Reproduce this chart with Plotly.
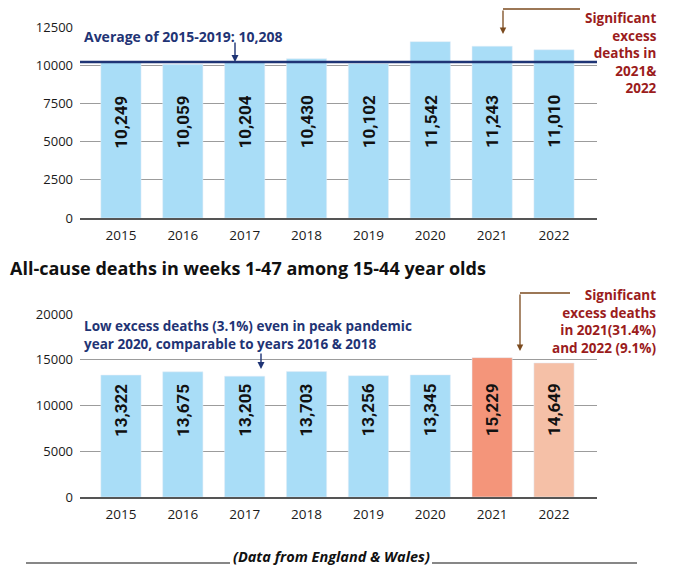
import plotly.graph_objects as go

years = ["2015", "2016", "2017", "2018", "2019", "2020", "2021", "2022"]
deaths_all_weeks = [10249, 10059, 10204, 10430, 10102, 11542, 11243, 11010]
deaths_wk1_47 = [13322, 13675, 13205, 13703, 13256, 13345, 15229, 14649]
average_2015_2019 = 10208

top_ticks = [0, 2500, 5000, 7500, 10000, 12500]
bottom_ticks = [0, 5000, 10000, 15000, 20000]

# the page body has an 8px margin, so the figure is a bit smaller and offset
OX, OY = 8, 8
W, H = 662, 568
FONT = "Open Sans, Noto Sans, sans-serif"
NARROW = "Liberation Sans Narrow, Arial Narrow, Roboto, sans-serif"
BLUE = "#A9DDF7"
NAVY = "#1F3475"
DARKRED = "#9B1C1C"
BROWN = "#7B4A1E"


def px(x):
    return (x - OX) / W


def py(y):
    return 1 - (y - OY) / H


fig = go.Figure()

fig.add_trace(go.Bar(x=years, y=deaths_all_weeks, marker_color=BLUE, width=0.65,
                     xaxis="x", yaxis="y", hoverinfo="x+y"))
bottom_colors = [BLUE] * 6 + ["#F4957A", "#F5C0A7"]
fig.add_trace(go.Bar(x=years, y=deaths_wk1_47, marker_color=bottom_colors, width=0.65,
                     xaxis="x2", yaxis="y2", hoverinfo="x+y"))

xdom = [px(80), px(597)]
xrange = [-0.662, 7.695]
xstyle = dict(type="category", range=xrange, domain=xdom, showline=True, linecolor="#555555",
              linewidth=1.5, showgrid=False, ticks="", ticklabelstandoff=4, automargin=False,
              tickfont=dict(family=FONT, size=13.5, color="#1a1a1a"))
ystyle = dict(showgrid=True, gridcolor="#9c9c9c", gridwidth=1, zeroline=False, ticks="",
              tickformat="d", automargin=False,
              ticklabelstandoff=6, tickfont=dict(family=FONT, size=13, color="#1a1a1a"))

fig.update_layout(
    width=W, height=H,
    margin=dict(l=0, r=0, t=0, b=0, pad=0),
    paper_bgcolor="white", plot_bgcolor="white",
    showlegend=False, bargap=0.35,
    xaxis=dict(anchor="y", **xstyle),
    xaxis2=dict(anchor="y2", **xstyle),
    yaxis=dict(anchor="x", domain=[py(218), py(27)], range=[0, 12500],
               tickvals=top_ticks, **ystyle),
    yaxis2=dict(anchor="x2", domain=[py(497), py(314)], range=[0, 20000],
                tickvals=bottom_ticks, **ystyle),
)

# value labels inside the bars (category index as x)
for i, v in enumerate(deaths_all_weeks):
    fig.add_annotation(x=i, y=6300, xref="x", yref="y", text=f"<b>{v:,}</b>", textangle=-90,
                       showarrow=False, font=dict(family=NARROW, size=17, color="#111111"))
for i, v in enumerate(deaths_wk1_47):
    fig.add_annotation(x=i, y=9500, xref="x2", yref="y2", text=f"<b>{v:,}</b>", textangle=-90,
                       showarrow=False, font=dict(family=NARROW, size=17, color="#111111"))

# average line
fig.add_shape(type="line", xref="paper", yref="y", x0=xdom[0], x1=xdom[1],
              y0=average_2015_2019, y1=average_2015_2019, line=dict(color=NAVY, width=2.5), layer="above")
fig.add_annotation(x=px(82), y=py(37), xref="paper", yref="paper", xanchor="left", yanchor="middle",
                   text=f"<b>Average of 2015-2019: {average_2015_2019:,}</b>", showarrow=False,
                   font=dict(family=FONT, size=14, color=NAVY))
fig.add_annotation(x=px(235), y=py(62), xref="paper", yref="paper", ax=0, ay=-21, text="",
                   showarrow=True, arrowhead=2, arrowsize=1, arrowwidth=1.4, arrowcolor=NAVY)

# top right note
fig.add_annotation(x=px(658), y=1, xref="paper", yref="paper", xanchor="right", yanchor="top",
                   align="right", showarrow=False, borderpad=0,
                   text="<b>Significant<br>excess<br>deaths in<br>2021&<br>2022</b>",
                   font=dict(family=FONT, size=13.5, color=DARKRED))
fig.add_shape(type="line", xref="paper", yref="paper", x0=px(503), x1=px(580), y0=py(9), y1=py(9),
              line=dict(color=BROWN, width=1.3))
fig.add_annotation(x=px(503), y=py(34), xref="paper", yref="paper", ax=0, ay=-25, text="",
                   showarrow=True, arrowhead=2, arrowsize=1, arrowwidth=1.3, arrowcolor=BROWN)

# title of second chart
fig.add_annotation(x=0, y=py(268), xref="paper", yref="paper", xanchor="left", yanchor="middle",
                   text="<b>All-cause deaths in weeks 1-47 among 15-44 year olds</b>", showarrow=False,
                   font=dict(family=FONT, size=18, color="#111111"))

# bottom notes
fig.add_annotation(x=px(82), y=py(315), xref="paper", yref="paper", xanchor="left", yanchor="top",
                   align="left", showarrow=False,
                   text="<b>Low excess deaths (3.1%) even in peak pandemic<br>"
                        "year 2020, comparable to years 2016 & 2018</b>",
                   font=dict(family=FONT, size=13.5, color=NAVY))
fig.add_annotation(x=px(261), y=py(369), xref="paper", yref="paper", ax=0, ay=-17, text="",
                   showarrow=True, arrowhead=2, arrowsize=1, arrowwidth=1.4, arrowcolor=NAVY)

fig.add_annotation(x=px(658), y=py(284), xref="paper", yref="paper", xanchor="right", yanchor="top",
                   align="right", showarrow=False,
                   text="<b>Significant<br>excess deaths<br>in 2021(31.4%)<br>and 2022 (9.1%)</b>",
                   font=dict(family=FONT, size=13.5, color=DARKRED))
fig.add_shape(type="line", xref="paper", yref="paper", x0=px(520), x1=px(570), y0=py(293), y1=py(293),
              line=dict(color=BROWN, width=1.3))
fig.add_annotation(x=px(520), y=py(351), xref="paper", yref="paper", ax=0, ay=-58, text="",
                   showarrow=True, arrowhead=2, arrowsize=1, arrowwidth=1.3, arrowcolor=BROWN)

# footer
fig.add_annotation(x=px(331), y=py(556), xref="paper", yref="paper", xanchor="center", yanchor="middle",
                   text="<b><i>(Data from England & Wales)</i></b>", showarrow=False,
                   font=dict(family=FONT, size=14.5, color="#111111"))
for x0, x1 in [(26, 230), (432, 637)]:
    fig.add_shape(type="line", xref="paper", yref="paper", x0=px(x0), x1=px(x1), y0=py(563), y1=py(563),
                  line=dict(color="#111111", width=1.2))

fig.write_html("out.html")
